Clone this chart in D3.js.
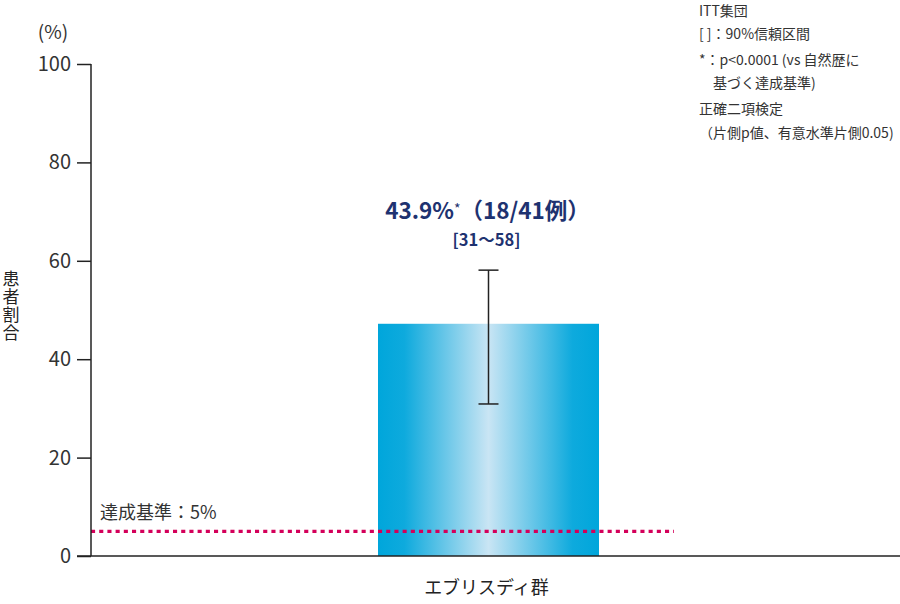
<!DOCTYPE html>
<html><head><meta charset="utf-8">
<script src="https://cdn.jsdelivr.net/npm/d3@7"></script>
<style>
body{margin:0;background:#fff;}
svg{display:block;font-family:"Noto Sans CJK JP","Noto Sans",sans-serif;}
</style></head><body>
<div id="chart"></div>
<script>
const categories = ["エブリスディ群"];
const barValues = [47.2];
const ciLow = [30.9];
const ciHigh = [58.1];
const valueLabels = ["43.9%"];
const countLabels = ["（18/41例）"];
const ciLabels = ["[31～58]"];
const threshold = 5;
const thresholdLabel = "達成基準：5%";
const yTicks = [0, 20, 40, 60, 80, 100];
const notes = ["ITT集団", "[ ]：90%信頼区間", "*：p<0.0001 (vs 自然歴に", "　基づく達成基準)", "正確二項検定", "（片側p値、有意水準片側0.05)"];

const W = 900, H = 604;
const svg = d3.select("#chart").append("svg").attr("width", W).attr("height", H);
const defs = svg.append("defs");
const grad = defs.append("linearGradient").attr("id", "barGrad").attr("x1", "0").attr("x2", "1").attr("y1", "0").attr("y2", "0");
[[0, "#00a6db"], [0.12, "#0eaadd"], [0.5, "#c9e5f4"], [0.88, "#0eaadd"], [1, "#00a6db"]].forEach(([o, c]) =>
  grad.append("stop").attr("offset", o).attr("stop-color", c));

const y = d3.scaleLinear().domain([0, 100]).range([556, 64]);
const x = d3.scaleBand().domain(categories).range([378, 599]).paddingInner(0).paddingOuter(0);

// bar
svg.selectAll("rect.bar").data(categories).enter().append("rect")
  .attr("class", "bar")
  .attr("x", d => x(d)).attr("width", x.bandwidth())
  .attr("y", (d, i) => y(barValues[i])).attr("height", (d, i) => y(0) - y(barValues[i]))
  .attr("fill", "url(#barGrad)");

// threshold dotted line
svg.append("line").attr("x1", 91).attr("x2", 674).attr("y1", y(threshold)).attr("y2", y(threshold))
  .attr("stroke", "#d4005a").attr("stroke-width", 3.2).attr("stroke-dasharray", "4.1 4.1");
svg.append("text").attr("x", 100).attr("y", y(threshold) - 12).attr("font-size", 18).attr("fill", "#333")
  .text(thresholdLabel);

// y axis
const yAxis = d3.axisLeft(y).tickValues(yTicks).tickSize(14).tickPadding(6).tickFormat(d3.format("d"));
const gy = svg.append("g").attr("transform", "translate(91,0)").call(yAxis);
gy.select(".domain").attr("d", `M0,${y(100)}V${y(0)}`).attr("stroke", "#222").attr("stroke-width", 1.5);
gy.selectAll(".tick line").attr("stroke", "#222").attr("stroke-width", 1.5);
gy.selectAll(".tick text").attr("font-size", 20).attr("fill", "#333")
  .attr("font-family", "'Noto Sans CJK JP', sans-serif");

// x axis baseline
svg.append("line").attr("x1", 77).attr("x2", 900).attr("y1", y(0)).attr("y2", y(0))
  .attr("stroke", "#222").attr("stroke-width", 1.5);

// error bars
categories.forEach((c, i) => {
  const cx = x(c) + x.bandwidth() / 2;
  const g = svg.append("g").attr("stroke", "#222").attr("stroke-width", 1.5);
  g.append("line").attr("x1", cx).attr("x2", cx).attr("y1", y(ciHigh[i])).attr("y2", y(ciLow[i]));
  g.append("line").attr("x1", cx - 10).attr("x2", cx + 10).attr("y1", y(ciHigh[i])).attr("y2", y(ciHigh[i]));
  g.append("line").attr("x1", cx - 10).attr("x2", cx + 10).attr("y1", y(ciLow[i])).attr("y2", y(ciLow[i]));

  const t = svg.append("text").attr("x", cx - 1).attr("y", 219).attr("text-anchor", "middle")
    .attr("fill", "#1e3270").attr("font-weight", "bold").attr("font-size", 22.5);
  t.append("tspan").text(valueLabels[i]);
  t.append("tspan").attr("font-size", 14).attr("dy", -5).attr("font-weight", "normal").text("*");
  t.append("tspan").attr("dy", 5).text(countLabels[i]);
  svg.append("text").attr("x", cx - 2).attr("y", 246).attr("text-anchor", "middle")
    .attr("fill", "#1e3270").attr("font-weight", "bold").attr("font-size", 16.5).text(ciLabels[i]);

  svg.append("text").attr("x", cx - 2).attr("y", 594).attr("text-anchor", "middle")
    .attr("fill", "#222").attr("font-size", 18).text(c);
});

// unit label
svg.append("text").attr("x", 53).attr("y", 39).attr("text-anchor", "middle").attr("font-size", 19).attr("fill", "#333").text("(%)");

// vertical y title
svg.append("text").attr("x", 11).attr("y", 270).attr("font-size", 17).attr("fill", "#222")
  .style("writing-mode", "vertical-rl").style("text-orientation", "upright").attr("letter-spacing", 1)
  .text("患者割合");

// notes
const nLines = [16, 39, 65, 88, 114, 138];
notes.forEach((n, i) => {
  svg.append("text").attr("x", 699).attr("y", nLines[i]).attr("font-size", 14).attr("fill", "#333").text(n);
});
</script>
</body></html>
